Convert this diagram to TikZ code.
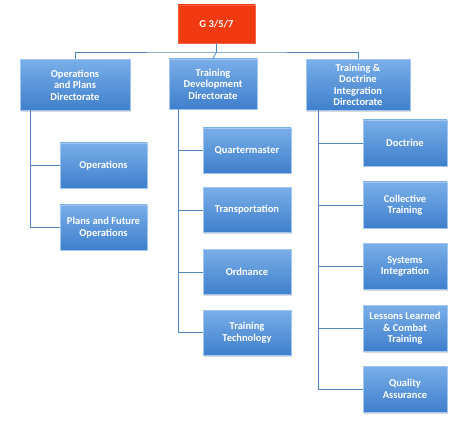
\documentclass[tikz,border=0pt]{standalone}
\usepackage{fontspec}
\setmainfont{Carlito}
\usetikzlibrary{shadows}
\definecolor{bx}{HTML}{3F7FCC}
\definecolor{bxl}{HTML}{79AEE8}
\definecolor{ln}{HTML}{4F86C0}
\definecolor{rd}{HTML}{F23A12}
\begin{document}
\begin{tikzpicture}[x=1pt,y=-1pt,
  box/.style={draw=bxl!70!white,line width=0.8pt,top color=bxl,bottom color=bx,text=white,
    font=\fontsize{10.5}{11.5}\selectfont\bfseries,align=center,inner sep=1pt,
    drop shadow={shadow xshift=1pt,shadow yshift=-1.5pt,opacity=0.3}},
  con/.style={draw=ln,line width=0.8pt}]
\useasboundingbox (0,0) rectangle (474,422);
\node[box,top color=rd,bottom color=rd,draw=rd!80!white,minimum width=77pt,minimum height=38pt] (g) at (216.5,24) {G 3/5/7};
\node[box,minimum width=110pt,minimum height=51pt] (a) at (75,85) {Operations\\and Plans\\Directorate};
\node[box,minimum width=88pt,minimum height=50pt] (b) at (213,84) {Training\\Development\\Directorate};
\node[box,minimum width=104pt,minimum height=51pt] (c) at (358,85) {Training \&\\Doctrine\\Integration\\Directorate};
\node[box,minimum width=87pt,minimum height=45pt] (a1) at (103.5,165.5) {Operations};
\node[box,minimum width=87pt,minimum height=45pt] (a2) at (103.5,227.5) {Plans and Future\\Operations};
\node[box,minimum width=88pt,minimum height=45pt] (b1) at (247,150.5) {Quartermaster};
\node[box,minimum width=88pt,minimum height=45pt] (b2) at (247,210) {Transportation};
\node[box,minimum width=88pt,minimum height=45pt] (b3) at (247,272) {Ordnance};
\node[box,minimum width=88pt,minimum height=45pt] (b4) at (247,332.5) {Training\\Technology};
\node[box,minimum width=84pt,minimum height=46pt] (c1) at (405,143) {Doctrine};
\node[box,minimum width=84pt,minimum height=46pt] (c2) at (405,205) {Collective\\Training};
\node[box,minimum width=84pt,minimum height=46pt] (c3) at (405,266.5) {Systems\\Integration};
\node[box,minimum width=84pt,minimum height=46pt] (c4) at (405,328.5) {Lessons Learned\\\& Combat\\Training};
\node[box,minimum width=84pt,minimum height=46pt] (c5) at (405,389) {Quality\\Assurance};
\coordinate (h) at (216.5,52);
\draw[con] (g.south) -- (h);
\draw[con] (a.north) |- (h) -| (c.north);
\draw[con] (h) -- (b.north);
\foreach \n in {a1,a2}{\draw[con] (30,110.5) |- (\n.west);}
\foreach \n in {b1,b2,b3,b4}{\draw[con] (178,109) |- (\n.west);}
\foreach \n in {c1,c2,c3,c4,c5}{\draw[con] (318,110.5) |- (\n.west);}
\end{tikzpicture}
\end{document}
